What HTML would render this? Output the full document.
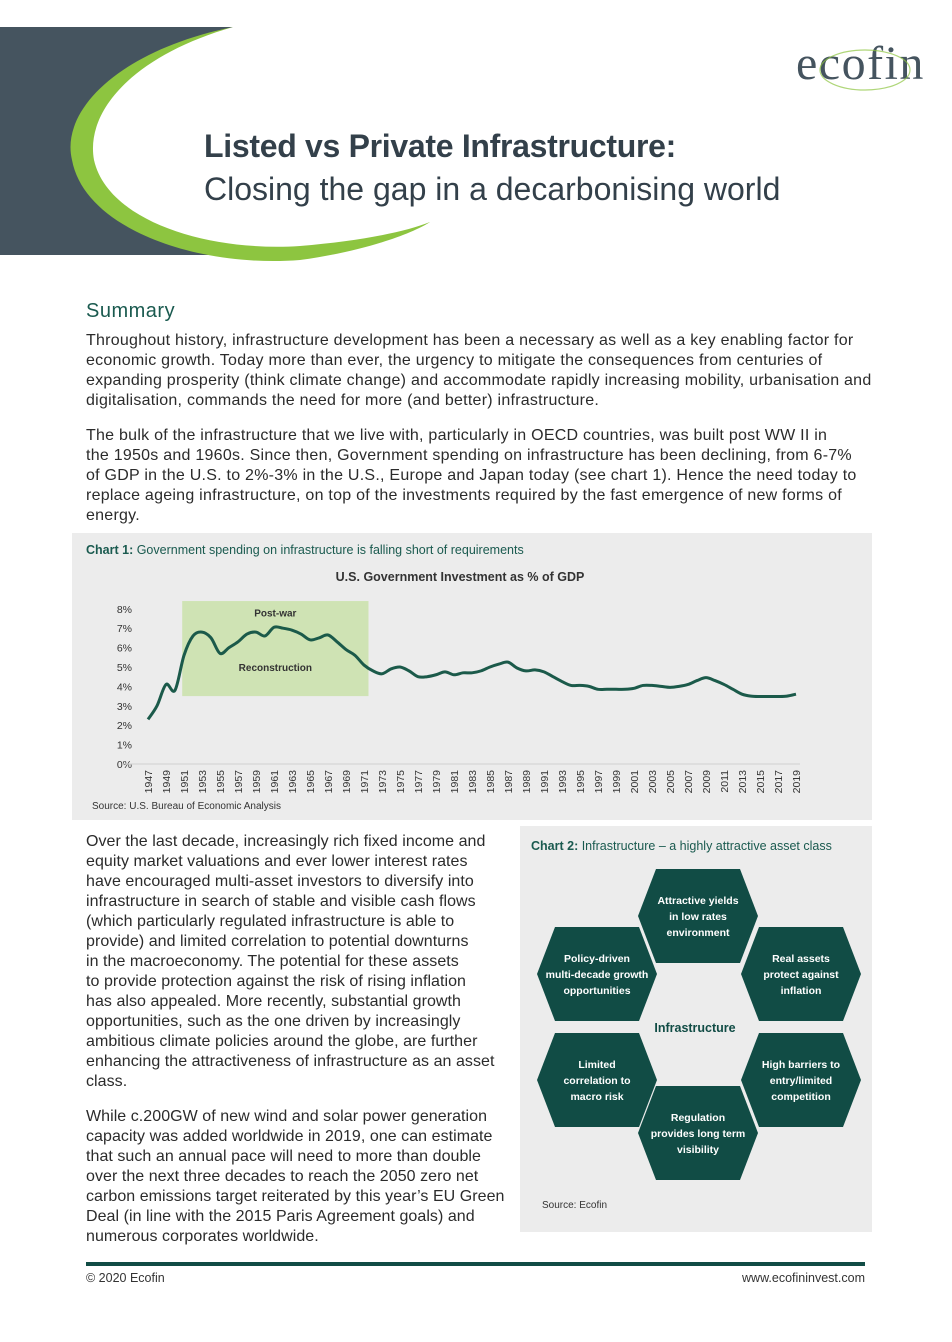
<!DOCTYPE html>
<html><head><meta charset="utf-8">
<style>
body{margin:0;width:952px;height:1342px;position:relative;background:#fff;font-family:"Liberation Sans",sans-serif;color:#2b2b2b;overflow:hidden}
.abs{position:absolute}
.p{position:absolute;left:86px;font-size:16px;line-height:20px;white-space:nowrap;letter-spacing:0.25px}
.hexlbl{font-size:10.5px;font-weight:bold;fill:#fff;text-anchor:middle}
</style></head><body>
<svg class="abs" style="left:0;top:0" width="952" height="280">
<rect x="0" y="27" width="320" height="228" fill="#45545f"/>
<path d="M233,27 C120,50 60,110 72,160 C85,230 200,268 300,260 C360,252 410,235 430,222 L952,222 L952,27 Z" fill="#8dc540"/>
<path d="M233,27 C135,55 85,110 94,160 C108,222 210,252 300,246 C360,241 405,232 430,222 L952,222 L952,27 Z" fill="#fff"/>
<rect x="430" y="200" width="522" height="80" fill="#fff"/>
</svg>
<div class="abs" style="left:796px;top:36px;font-family:'Liberation Serif',serif;font-size:48px;color:#45545f;letter-spacing:1.5px">ecofin</div>
<svg class="abs" style="left:790px;top:40px" width="150" height="60"><ellipse cx="75" cy="30" rx="45" ry="20" fill="none" stroke="#8dc540" stroke-width="1.2" opacity="0.7"/></svg>
<div class="abs" style="left:204px;top:128px;font-size:32px;font-weight:bold;color:#33404a;letter-spacing:-0.3px">Listed vs Private Infrastructure:</div>
<div class="abs" style="left:204px;top:171px;font-size:32px;color:#33404a;letter-spacing:0px">Closing the gap in a decarbonising world</div>

<div class="abs" style="left:86px;top:300px;font-size:20px;color:#1a5a4f;letter-spacing:0.5px">Summary</div>
<div class="p" style="top:331px">Throughout history, infrastructure development has been a necessary as well as a key enabling factor for<br>economic growth. Today more than ever, the urgency to mitigate the consequences from centuries of<br>expanding prosperity (think climate change) and accommodate rapidly increasing mobility, urbanisation and<br>digitalisation, commands the need for more (and better) infrastructure.</div>
<div class="p" style="top:426px">The bulk of the infrastructure that we live with, particularly in OECD countries, was built post WW II in<br>the 1950s and 1960s. Since then, Government spending on infrastructure has been declining, from 6-7%<br>of GDP in the U.S. to 2%-3% in the U.S., Europe and Japan today (see chart 1). Hence the need today to<br>replace ageing infrastructure, on top of the investments required by the fast emergence of new forms of<br>energy.</div>

<div class="abs" style="left:72px;top:533px;width:800px;height:287px;background:#ececec"></div>
<div class="abs" style="left:86px;top:543px;font-size:12.5px;color:#1a5a4f"><b>Chart 1:</b> Government spending on infrastructure is falling short of requirements</div>
<div class="abs" style="left:0;width:920px;text-align:center;top:570px;font-size:12.5px;font-weight:bold;color:#333">U.S. Government Investment as % of GDP</div>
<svg id="ch1" class="abs" style="left:0;top:590px" width="952" height="230"></svg>
<div class="abs" style="left:92px;top:801px;font-size:10px;color:#333">Source: U.S. Bureau of Economic Analysis</div>

<div class="p" style="top:832px;letter-spacing:0.05px">Over the last decade, increasingly rich fixed income and<br>equity market valuations and ever lower interest rates<br>have encouraged multi-asset investors to diversify into<br>infrastructure in search of stable and visible cash flows<br>(which particularly regulated infrastructure is able to<br>provide) and limited correlation to potential downturns<br>in the macroeconomy. The potential for these assets<br>to provide protection against the risk of rising inflation<br>has also appealed. More recently, substantial growth<br>opportunities, such as the one driven by increasingly<br>ambitious climate policies around the globe, are further<br>enhancing the attractiveness of infrastructure as an asset<br>class.</div>
<div class="p" style="top:1107px;letter-spacing:0.05px">While c.200GW of new wind and solar power generation<br>capacity was added worldwide in 2019, one can estimate<br>that such an annual pace will need to more than double<br>over the next three decades to reach the 2050 zero net<br>carbon emissions target reiterated by this year’s EU Green<br>Deal (in line with the 2015 Paris Agreement goals) and<br>numerous corporates worldwide.</div>

<div class="abs" style="left:520px;top:826px;width:352px;height:406px;background:#ececec"></div>
<div class="abs" style="left:531px;top:839px;font-size:12.5px;color:#1a5a4f"><b>Chart 2:</b> Infrastructure – a highly attractive asset class</div>
<svg class="abs" style="left:520px;top:826px" width="352" height="406">
<g transform="translate(-520,-826)">
<polygon points="638,916 656,869 740,869 758,916 740,963 656,963" fill="#114c45"/>
<polygon points="537,974 555,927 639,927 657,974 639,1021 555,1021" fill="#114c45"/>
<polygon points="741,974 759,927 843,927 861,974 843,1021 759,1021" fill="#114c45"/>
<polygon points="537,1080 555,1033 639,1033 657,1080 639,1127 555,1127" fill="#114c45"/>
<polygon points="741,1080 759,1033 843,1033 861,1080 843,1127 759,1127" fill="#114c45"/>
<polygon points="638,1133 656,1086 740,1086 758,1133 740,1180 656,1180" fill="#114c45"/>
<text class="hexlbl" x="698" y="904">Attractive yields</text><text class="hexlbl" x="698" y="920">in low rates</text><text class="hexlbl" x="698" y="936">environment</text>
<text class="hexlbl" x="597" y="962">Policy-driven</text><text class="hexlbl" x="597" y="978">multi-decade growth</text><text class="hexlbl" x="597" y="994">opportunities</text>
<text class="hexlbl" x="801" y="962">Real assets</text><text class="hexlbl" x="801" y="978">protect against</text><text class="hexlbl" x="801" y="994">inflation</text>
<text class="hexlbl" x="597" y="1068">Limited</text><text class="hexlbl" x="597" y="1084">correlation to</text><text class="hexlbl" x="597" y="1100">macro risk</text>
<text class="hexlbl" x="801" y="1068">High barriers to</text><text class="hexlbl" x="801" y="1084">entry/limited</text><text class="hexlbl" x="801" y="1100">competition</text>
<text class="hexlbl" x="698" y="1121">Regulation</text><text class="hexlbl" x="698" y="1137">provides long term</text><text class="hexlbl" x="698" y="1153">visibility</text>
<text x="695" y="1032" text-anchor="middle" font-size="12.5" font-weight="bold" fill="#114c45">Infrastructure</text>
<text x="542" y="1208" font-size="10" fill="#333">Source: Ecofin</text>
</g></svg>

<div class="abs" style="left:86px;top:1262px;width:779px;height:4px;background:#114c45"></div>
<div class="abs" style="left:86px;top:1271px;font-size:12.5px;color:#333">© 2020 Ecofin</div>
<div class="abs" style="right:87px;top:1271px;font-size:12.5px;color:#333">www.ecofininvest.com</div>

<script>
const years=[];for(let y=1947;y<=2019;y++)years.push(y);
const values=[2.3,3.0,4.1,3.8,5.6,6.6,6.8,6.5,5.7,6.0,6.3,6.7,6.8,6.6,7.05,7.0,6.9,6.7,6.4,6.5,6.65,6.3,5.9,5.6,5.1,4.8,4.65,4.9,5.0,4.8,4.5,4.5,4.6,4.75,4.6,4.7,4.7,4.8,5.0,5.15,5.25,4.95,4.8,4.85,4.75,4.5,4.25,4.05,4.05,4.0,3.85,3.85,3.85,3.85,3.9,4.05,4.05,4.0,3.95,4.0,4.1,4.3,4.45,4.3,4.1,3.85,3.6,3.5,3.48,3.48,3.48,3.5,3.6];
const yTicks=[0,1,2,3,4,5,6,7,8];
const shadeRange=[1950.8,1971.5];
const shadeLabels=["Post-war","Reconstruction"];
const svg=document.getElementById('ch1');const NS='http://www.w3.org/2000/svg';
const OY=590;
const x=v=>148+(v-1947)*9;
const y=v=>764-OY-v*19.4;
function mk(t,a){const e=document.createElementNS(NS,t);for(const k in a)e.setAttribute(k,a[k]);svg.appendChild(e);return e;}
const sh=mk('rect',{x:x(shadeRange[0]),y:y(8.4),width:x(shadeRange[1])-x(shadeRange[0]),height:y(3.5)-y(8.4),fill:'#cfe3b4'});


const l1=mk('text',{x:(x(shadeRange[0])+x(shadeRange[1]))/2,y:y(7.8)+4,'text-anchor':'middle','font-size':'10','font-weight':'bold',fill:'#333'});l1.textContent=shadeLabels[0];


const l2=mk('text',{x:(x(shadeRange[0])+x(shadeRange[1]))/2,y:y(5.0)+4,'text-anchor':'middle','font-size':'10','font-weight':'bold',fill:'#333'});l2.textContent=shadeLabels[1];


yTicks.forEach(t=>{const e=mk('text',{x:132,y:y(t)+4,'text-anchor':'end','font-size':'10.5',fill:'#333'});e.textContent=t+'%';

});
const ax=mk('line',{x1:122,x2:800,y1:y(0),y2:y(0),stroke:'#cfcfcf','stroke-width':1});


years.forEach((yr,i)=>{if(i%2)return;const tx=x(yr)+4,ty=y(0)+6;const e=mk('text',{x:tx,y:ty,transform:`rotate(-90 ${tx} ${ty})`,'text-anchor':'end','font-size':'10.5',fill:'#333'});e.textContent=yr;

});
const P=years.map((yr,i)=>[x(yr),y(values[i])]);
let d=`M${P[0][0]},${P[0][1]}`;
for(let i=0;i<P.length-1;i++){const p0=P[i-1]||P[i],p1=P[i],p2=P[i+1],p3=P[i+2]||P[i+1];
d+=` C${p1[0]+(p2[0]-p0[0])/6},${p1[1]+(p2[1]-p0[1])/6} ${p2[0]-(p3[0]-p1[0])/6},${p2[1]-(p3[1]-p1[1])/6} ${p2[0]},${p2[1]}`;}
const ln=mk('path',{d:d,fill:'none',stroke:'#1b5a4a','stroke-width':3,'stroke-linejoin':'round'});


</script>
</body></html>
